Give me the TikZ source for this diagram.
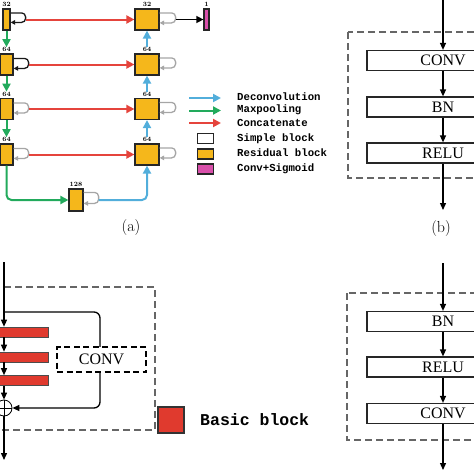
\documentclass[tikz,border=0pt]{standalone}
\usepackage{fontspec}
\newfontfamily\legfont{Liberation Mono}
\newfontfamily\boxfont{Liberation Serif}
\usetikzlibrary{arrows.meta}
\definecolor{resyellow}{HTML}{F5B71B}
\definecolor{catred}{HTML}{E5443C}
\definecolor{poolgreen}{HTML}{22AA5C}
\definecolor{deconvblue}{HTML}{52AEDB}
\definecolor{sigpurple}{HTML}{D84FAA}
\definecolor{barred}{HTML}{E03A2E}
\tikzstyle{every node}=[inner sep=0pt]
\tikzstyle{res}=[draw=black!85, fill=resyellow, line width=1.2pt]
\tikzstyle{num}=[font=\fontsize{6.5}{6.5}\selectfont\bfseries, above=1.5pt]
\tikzstyle{selfdark}=[draw=black!90, line width=1.3pt, rounded corners=4pt, -{Triangle[length=4.5pt,width=4.5pt]}]
\tikzstyle{selfgray}=[draw=black!35, line width=1.3pt, rounded corners=4pt, -{Triangle[length=4.5pt,width=4.5pt]}]
\tikzstyle{colarrow}=[line width=2pt, -{Triangle[length=8pt,width=8pt]}]
\tikzstyle{cat}=[colarrow, catred]
\tikzstyle{pool}=[colarrow, poolgreen, rounded corners=5pt]
\tikzstyle{deconv}=[colarrow, deconvblue, rounded corners=5pt]
\tikzstyle{layer}=[draw=black!85, line width=1.2pt, minimum width=152pt, minimum height=20pt, font=\boxfont\fontsize{16}{16}\selectfont]
\tikzstyle{flow}=[line width=1.3pt, -{Triangle[length=7pt,width=6pt]}]
\tikzstyle{outerbox}=[draw=black!60, line width=1.2pt, dash pattern=on 7pt off 4pt]
\tikzstyle{legtext}=[anchor=west, font=\legfont\bfseries\fontsize{10.7}{10.7}\selectfont]
\tikzstyle{caption}=[font=\fontsize{16}{16}\selectfont]

\begin{document}
\begin{tikzpicture}[x=1pt, y=-1pt]
	\useasboundingbox (0,0) rectangle (474,474);
	\clip (0,0) rectangle (474,474);

	% (a) network
	\node[res, minimum width=7pt, minimum height=21pt] (L1) at (6.5,19.5) {};
	\node[res, minimum width=13pt, minimum height=21pt] (L2) at (6.5,64.5) {};
	\node[res, minimum width=13pt, minimum height=21pt] (L3) at (6.5,109) {};
	\node[res, minimum width=13pt, minimum height=21pt] (L4) at (6.5,154.5) {};
	\node[res, minimum width=14pt, minimum height=22pt] (Bot) at (76,200) {};
	\node[res, minimum width=24pt, minimum height=21pt] (R1) at (147,19.5) {};
	\node[res, minimum width=24pt, minimum height=21pt] (R2) at (147,64.5) {};
	\node[res, minimum width=24pt, minimum height=21pt] (R3) at (147,109) {};
	\node[res, minimum width=24pt, minimum height=21pt] (R4) at (147,154.5) {};
	\node[draw=black!85, fill=sigpurple, line width=1.2pt, minimum width=5pt, minimum height=21pt] (Out) at (206.5,19.5) {};

	\node[num] (n1) at (L1.north) {32};
	\node[num] (n2) at (L2.north) {64};
	\node[num] (n3) at (L3.north) {64};
	\node[num] (n4) at (L4.north) {64};
	\node[num] (n5) at (Bot.north) {128};
	\node[num] (m1) at (R1.north) {32};
	\node[num] (m2) at (R2.north) {64};
	\node[num] (m3) at (R3.north) {64};
	\node[num] (m4) at (R4.north) {64};
	\node[num] (m5) at (Out.north) {1};

	% self loops
	\draw[selfdark] ([yshift=-4.5pt]L1.north east) -- ++(15,0) -- ++(0,9.5) -- ++(-15,0);
	\draw[selfdark] ([yshift=-5pt]L2.north east) -- ++(15,0) -- ++(0,10) -- ++(-15,0);
	\draw[selfgray] ([yshift=-5pt]L3.north east) -- ++(15,0) -- ++(0,10) -- ++(-15,0);
	\draw[selfgray] ([yshift=-5pt]L4.north east) -- ++(15,0) -- ++(0,10) -- ++(-15,0);
	\draw[selfgray] ([yshift=-4pt]Bot.north east) -- ++(15,0) -- ++(0,11) -- ++(-15,0);
	\foreach \r in {R1,R2,R3,R4}
		\draw[selfgray] ([yshift=-4.5pt]\r.north east) -- ++(16,0) -- ++(0,10) -- ++(-16,0);

	% concatenate
	\draw[cat] ([xshift=15pt]L1.east) -- (R1.west);
	\draw[cat] ([xshift=15pt]L2.east) -- (R2.west);
	\draw[cat] ([xshift=15pt]L3.east) -- (R3.west);
	\draw[cat] ([xshift=15pt]L4.east) -- (R4.west);
	\draw[line width=1.3pt, -{Triangle[length=7pt,width=7pt]}] ([xshift=16pt]R1.east) -- (Out.west);

	% maxpooling
	\draw[pool] (L1.south) -- (n2.north);
	\draw[pool] (L2.south) -- (n3.north);
	\draw[pool] (L3.south) -- (n4.north);
	\draw[pool] (L4.south) |- (Bot.west);

	% deconvolution
	\draw[deconv] ([xshift=15pt]Bot.east) -| (R4.south);
	\draw[deconv] (m4.north) -- (R3.south);
	\draw[deconv] (m3.north) -- (R2.south);
	\draw[deconv] (m2.north) -- (R1.south);

	% legend
	\coordinate (k1) at (189,98);
	\coordinate (k2) at (189,110.5);
	\coordinate (k3) at (189,123);
	\draw[colarrow, deconvblue] (k1) -- ++(32,0);
	\draw[colarrow, poolgreen] (k2) -- ++(32,0);
	\draw[colarrow, catred] (k3) -- ++(32,0);
	\node[draw=black!85, fill=white, line width=1.2pt, minimum width=16pt, minimum height=10pt] (k4) at (205.5,138.5) {};
	\node[res, minimum width=16pt, minimum height=10pt] (k5) at (205.5,154) {};
	\node[draw=black!85, fill=sigpurple, line width=1.2pt, minimum width=16pt, minimum height=10pt] (k6) at (205.5,169) {};
	\node[legtext] at (237,97) {Deconvolution};
	\node[legtext] at (237,110) {Maxpooling};
	\node[legtext] at (237,123) {Concatenate};
	\node[legtext] at (237,139) {Simple block};
	\node[legtext] at (237,153) {Residual block};
	\node[legtext] at (237,169) {Conv+Sigmoid};
	\node[caption] at (131,228) {(a)};

	% (b) simple block
	\draw[outerbox] (348,32) rectangle (540,178);
	\coordinate (bin) at (443,0);
	\coordinate (bout) at (443,210);
	\node[layer, fill=white] (bconv) at (443,60.5) {CONV};
	\node[layer, fill=white] (bbn) at (443,107) {BN};
	\node[layer, fill=white] (brelu) at (443,153) {RELU};
	\draw[flow] (bin) -- (bconv.north);
	\draw[flow] (bconv.south) -- (bbn.north);
	\draw[flow] (bbn.south) -- (brelu.north);
	\draw[flow] (brelu.south) -- (bout);
	\node[caption] at (441,229) {(b)};

	% (c) residual block
	\draw[outerbox] (-20,287) rectangle (155,430);
	\coordinate (cin) at (4,262);
	\coordinate (csplit) at (4,312);
	\coordinate (cout) at (4,460);
	\node[fill=barred, draw=black!70, line width=0.6pt, minimum width=88pt, minimum height=10pt] (bar1) at (4,332) {};
	\node[fill=barred, draw=black!70, line width=0.6pt, minimum width=88pt, minimum height=10pt] (bar2) at (4,357) {};
	\node[fill=barred, draw=black!70, line width=0.6pt, minimum width=88pt, minimum height=10pt] (bar3) at (4,380.5) {};
	\node[draw=black, fill=white, line width=0.8pt, circle, minimum size=16pt] (add) at (4,408) {};
	\draw[line width=0.8pt] (add.north) -- (add.south) (add.west) -- (add.east);
	\draw[line width=1.3pt, rounded corners=6pt, -{Triangle[length=7pt,width=6pt]}] (csplit) -- (100,312) -- (100,408) -- (add.east);
	\node[draw=black, fill=white, line width=1.3pt, dash pattern=on 6pt off 3.5pt, minimum width=89pt, minimum height=25pt, font=\boxfont\fontsize{16}{16}\selectfont] (cconv) at (101.5,359.5) {CONV};
	\draw[flow] (cin) -- (bar1.north);
	\draw[flow] (bar1.south) -- (bar2.north);
	\draw[flow] (bar2.south) -- (bar3.north);
	\draw[flow] (bar3.south) -- (add.north);
	\draw[flow] (add.south) -- (cout);
	\node[fill=barred, draw=black!80, line width=1.2pt, minimum size=26pt] (basic) at (171,420) {};
	\node[anchor=west, font=\legfont\bfseries\fontsize{16.5}{16.5}\selectfont] at (200,420) {Basic block};

	% (d) basic block
	\draw[outerbox] (347,293) rectangle (540,440);
	\coordinate (din) at (443,263);
	\coordinate (dout) at (443,470);
	\node[layer, fill=white] (dbn) at (443,321.5) {BN};
	\node[layer, fill=white] (drelu) at (443,367) {RELU};
	\node[layer, fill=white] (dconv) at (443,413.5) {CONV};
	\draw[flow] (din) -- (dbn.north);
	\draw[flow] (dbn.south) -- (drelu.north);
	\draw[flow] (drelu.south) -- (dconv.north);
	\draw[flow] (dconv.south) -- (dout);
\end{tikzpicture}
\end{document}
